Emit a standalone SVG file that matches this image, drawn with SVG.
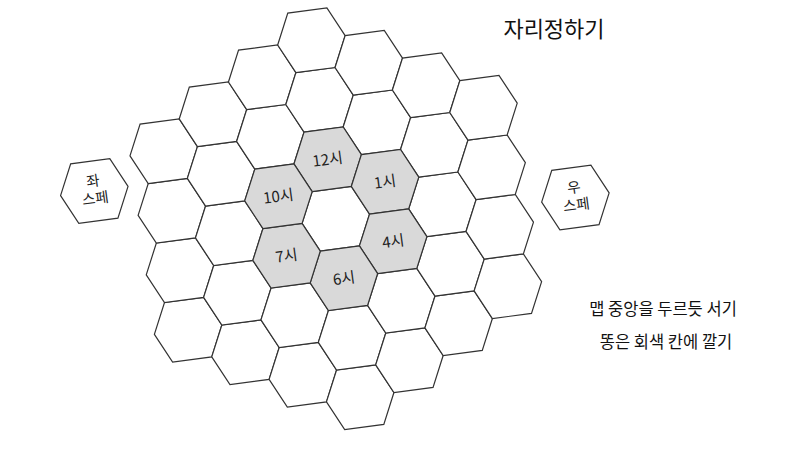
<svg xmlns="http://www.w3.org/2000/svg" xmlns:xlink="http://www.w3.org/1999/xlink" width="800" height="450" viewBox="0 0 800 450">
<style>
.hw{fill:#ffffff;stroke:#333333;stroke-width:1.2;stroke-linejoin:miter}
.hg{fill:#d9d9d9;stroke:#333333;stroke-width:1.2;stroke-linejoin:miter}
.lb{font-family:"Noto Sans CJK KR","Noto Sans",sans-serif;font-size:15px;fill:#222222;text-anchor:middle}
.sm{font-family:"Noto Sans CJK KR","Noto Sans",sans-serif;font-size:14.5px;fill:#222222;text-anchor:middle}
.tt{font-family:"Noto Sans CJK KR","Noto Sans",sans-serif;font-size:22px;fill:#111111;text-anchor:middle}
.nt{font-family:"Noto Sans CJK KR","Noto Sans",sans-serif;font-size:16.5px;fill:#111111;text-anchor:middle}
</style>
<defs>
<polygon id="hex" points="33.73,-4.68 15.5,-32.3 -23.63,-27.18 -33.73,4.68 -15.5,32.3 23.63,27.18"/>
</defs>
<rect width="800" height="450" fill="#ffffff"/>
<g id="grid">
<g id="c-m3-0" transform="translate(188.11,329.69)"><use href="#hex" class="hw"/></g>
<g id="c-m3-1" transform="translate(179.98,270.21)"><use href="#hex" class="hw"/></g>
<g id="c-m3-2" transform="translate(171.85,210.73)"><use href="#hex" class="hw"/></g>
<g id="c-m3-3" transform="translate(163.72,151.25)"><use href="#hex" class="hw"/></g>
<g id="c-m2-m1" transform="translate(245.47,352.19)"><use href="#hex" class="hw"/></g>
<g id="c-m2-0" transform="translate(237.34,292.71)"><use href="#hex" class="hw"/></g>
<g id="c-m2-1" transform="translate(229.21,233.23)"><use href="#hex" class="hw"/></g>
<g id="c-m2-2" transform="translate(221.08,173.75)"><use href="#hex" class="hw"/></g>
<g id="c-m2-3" transform="translate(212.95,114.27)"><use href="#hex" class="hw"/></g>
<g id="c-m1-m2" transform="translate(302.83,374.69)"><use href="#hex" class="hw"/></g>
<g id="c-m1-m1" transform="translate(294.70,315.21)"><use href="#hex" class="hw"/></g>
<g id="c-m1-2" transform="translate(270.31,136.77)"><use href="#hex" class="hw"/></g>
<g id="c-m1-3" transform="translate(262.18,77.29)"><use href="#hex" class="hw"/></g>
<g id="c-0-m3" transform="translate(360.19,397.19)"><use href="#hex" class="hw"/></g>
<g id="c-0-m2" transform="translate(352.06,337.71)"><use href="#hex" class="hw"/></g>
<g id="c-0-0" transform="translate(335.8,218.75)"><use href="#hex" class="hw"/></g>
<g id="c-0-2" transform="translate(319.54,99.79)"><use href="#hex" class="hw"/></g>
<g id="c-0-3" transform="translate(311.41,40.31)"><use href="#hex" class="hw"/></g>
<g id="c-1-m3" transform="translate(409.42,360.21)"><use href="#hex" class="hw"/></g>
<g id="c-1-m2" transform="translate(401.29,300.73)"><use href="#hex" class="hw"/></g>
<g id="c-1-1" transform="translate(376.90,122.29)"><use href="#hex" class="hw"/></g>
<g id="c-1-2" transform="translate(368.77,62.81)"><use href="#hex" class="hw"/></g>
<g id="c-2-m3" transform="translate(458.65,323.23)"><use href="#hex" class="hw"/></g>
<g id="c-2-m2" transform="translate(450.52,263.75)"><use href="#hex" class="hw"/></g>
<g id="c-2-m1" transform="translate(442.39,204.27)"><use href="#hex" class="hw"/></g>
<g id="c-2-0" transform="translate(434.26,144.79)"><use href="#hex" class="hw"/></g>
<g id="c-2-1" transform="translate(426.13,85.31)"><use href="#hex" class="hw"/></g>
<g id="c-3-m3" transform="translate(507.88,286.25)"><use href="#hex" class="hw"/></g>
<g id="c-3-m2" transform="translate(499.75,226.77)"><use href="#hex" class="hw"/></g>
<g id="c-3-m1" transform="translate(491.62,167.29)"><use href="#hex" class="hw"/></g>
<g id="c-3-0" transform="translate(483.49,107.81)"><use href="#hex" class="hw"/></g>
<g id="h12" transform="translate(327.67,159.27)"><use href="#hex" class="hg"/><text class="lb" transform="rotate(-7.7)" y="5.5">12시</text></g>
<g id="h1" transform="translate(385.03,181.77)"><use href="#hex" class="hg"/><text class="lb" transform="rotate(-7.7)" y="5.5">1시</text></g>
<g id="h4" transform="translate(393.16,241.25)"><use href="#hex" class="hg"/><text class="lb" transform="rotate(-7.7)" y="5.5">4시</text></g>
<g id="h6" transform="translate(343.93,278.23)"><use href="#hex" class="hg"/><text class="lb" transform="rotate(-7.7)" y="5.5">6시</text></g>
<g id="h7" transform="translate(286.57,255.73)"><use href="#hex" class="hg"/><text class="lb" transform="rotate(-7.7)" y="5.5">7시</text></g>
<g id="h10" transform="translate(278.44,196.25)"><use href="#hex" class="hg"/><text class="lb" transform="rotate(-7.7)" y="5.5">10시</text></g>
</g>
<g id="left-spawn" transform="translate(94.3,191)"><use href="#hex" class="hw"/><g transform="rotate(-7.7)"><text class="sm" y="-5">좌</text><text class="sm" y="12.5">스페</text></g></g>
<g id="right-spawn" transform="translate(575.4,197.5)"><use href="#hex" class="hw"/><g transform="rotate(-7.7)"><text class="sm" y="-5">우</text><text class="sm" y="12.5">스페</text></g></g>
<g id="title"><text class="tt" x="554" y="37">자리정하기</text></g>
<g id="notes"><text class="nt" x="663" y="315">맵 중앙을 두르듯 서기</text><text class="nt" x="666" y="348">똥은 회색 칸에 깔기</text></g>
</svg>
